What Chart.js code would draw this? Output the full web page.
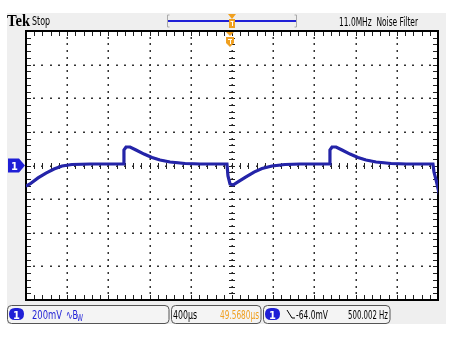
<!DOCTYPE html>
<html>
<head>
<meta charset="utf-8">
<script src="https://cdn.jsdelivr.net/npm/chart.js@4.4.1/dist/chart.umd.min.js"></script>
<style>
  html, body { margin: 0; padding: 0; background: #fff; }
  canvas { display: block; }
</style>
</head>
<body>
<canvas id="scope" width="459" height="347"></canvas>
<script>
// trace: time in microseconds, level in millivolts
const timeUs = [0, 39, 117, 194, 272, 350, 447, 621, 942,
  951, 971, 1010, 1068, 1146, 1223, 1301, 1398, 1544, 1689, 1951,
  1961, 1981, 2010, 2058, 2136, 2214, 2291, 2388, 2515, 2660, 2942,
  2951, 2971, 3010, 3068, 3146, 3223, 3301, 3398, 3544, 3689, 3951,
  3961, 3981, 3990];
const traceMv = [-122, -110, -74, -45, -21, -3, 6, 9, 9,
  92, 110, 110, 92, 68, 48, 33, 21, 12, 9, 9,
  -62, -110, -116, -98, -68, -39, -18, -3, 6, 9, 9,
  92, 110, 110, 92, 68, 48, 33, 21, 12, 9, 9,
  -39, -86, -110];

// screen settings
const usPerDiv = 400;
const mvPerDiv = 200;
const xDivs = 10;
const yDivs = 8;
const headerLeft = "Stop";
const headerRight = "11.0MHz  Noise Filter";
const chScale = "200mV";
const timeBase = "400\u00b5s";
const trigPos = "49.5680\u00b5s";
const trigLevel = "-64.0mV";
const freqText = "500.002 Hz";

const narrow = "'Liberation Sans Narrow','DejaVu Sans Condensed',Arial,sans-serif";
const blue = "#1f1fd6";
const orange = "#f0a020";

function roundRect(ctx, x, y, w, h, r) {
  ctx.beginPath();
  ctx.moveTo(x + r, y);
  ctx.lineTo(x + w - r, y);
  ctx.quadraticCurveTo(x + w, y, x + w, y + r);
  ctx.lineTo(x + w, y + h - r);
  ctx.quadraticCurveTo(x + w, y + h, x + w - r, y + h);
  ctx.lineTo(x + r, y + h);
  ctx.quadraticCurveTo(x, y + h, x, y + h - r);
  ctx.lineTo(x, y + r);
  ctx.quadraticCurveTo(x, y, x + r, y);
  ctx.closePath();
}

function chPill(ctx, x, y) {
  ctx.fillStyle = blue;
  roundRect(ctx, x, y, 15, 12, 6);
  ctx.fill();
  ctx.fillStyle = "#fff";
  ctx.font = "bold 11px " + narrow;
  ctx.textAlign = "center";
  ctx.fillText("1", x + 7.5, y + 10.5);
  ctx.textAlign = "left";
}

const scopePlugin = {
  id: "scope",
  beforeDraw(chart) {
    const ctx = chart.ctx;
    const a = chart.chartArea;
    const xs = chart.scales.x, ys = chart.scales.y;
    ctx.save();
    ctx.fillStyle = "#fff";
    ctx.fillRect(0, 0, chart.width, chart.height);
    ctx.fillStyle = "#efefef";
    ctx.fillRect(7, 13, 439, 311);
    ctx.fillStyle = "#fff";
    ctx.fillRect(a.left, a.top, a.right - a.left, a.bottom - a.top);

    // dotted graticule
    ctx.fillStyle = "#333";
    const xMin = xs.min, xMax = xs.max, yMin = ys.min, yMax = ys.max;
    const xMinor = usPerDiv / 5, yMinor = mvPerDiv / 5;
    for (let t = xMin + usPerDiv; t < xMax; t += usPerDiv) {
      const px = Math.round(xs.getPixelForValue(t));
      for (let v = yMin; v <= yMax; v += yMinor) {
        const py = Math.round(ys.getPixelForValue(v));
        ctx.fillRect(px - 0.5, py - 1, 1.5, 2);
      }
    }
    for (let v = yMin + mvPerDiv; v < yMax; v += mvPerDiv) {
      const py = Math.round(ys.getPixelForValue(v));
      for (let t = xMin; t <= xMax; t += xMinor) {
        const px = Math.round(xs.getPixelForValue(t));
        ctx.fillRect(px - 1, py - 0.5, 2, 1.5);
      }
    }
    // centre line ticks
    const cx = Math.round(xs.getPixelForValue((xMin + xMax) / 2));
    const cy = Math.round(ys.getPixelForValue(0));
    ctx.strokeStyle = "#222";
    ctx.lineWidth = 1;
    ctx.beginPath();
    for (let t = xMin; t <= xMax; t += xMinor) {
      const px = Math.round(xs.getPixelForValue(t)) + 0.5;
      ctx.moveTo(px, cy - 3); ctx.lineTo(px, cy + 3);
    }
    for (let v = yMin; v <= yMax; v += yMinor) {
      const py = Math.round(ys.getPixelForValue(v)) + 0.5;
      ctx.moveTo(cx - 3, py); ctx.lineTo(cx + 3, py);
    }
    // border ticks
    for (let t = xMin; t <= xMax; t += xMinor) {
      const px = Math.round(xs.getPixelForValue(t)) + 0.5;
      ctx.moveTo(px, a.top); ctx.lineTo(px, a.top + 5);
      ctx.moveTo(px, a.bottom); ctx.lineTo(px, a.bottom - 5);
    }
    for (let v = yMin; v <= yMax; v += yMinor) {
      const py = Math.round(ys.getPixelForValue(v)) + 0.5;
      ctx.moveTo(a.left, py); ctx.lineTo(a.left + 5, py);
      ctx.moveTo(a.right, py); ctx.lineTo(a.right - 5, py);
    }
    ctx.stroke();
    ctx.lineWidth = 2;
    ctx.strokeStyle = "#000";
    ctx.strokeRect(a.left, a.top, a.right - a.left, a.bottom - a.top);
    ctx.restore();
  },
  afterDraw(chart) {
    const ctx = chart.ctx;
    const xs = chart.scales.x, ys = chart.scales.y;
    ctx.save();
    // header
    ctx.fillStyle = "#000";
    ctx.font = "bold 17px 'Liberation Serif',serif";
    ctx.fillText("Tek", 7, 26, 23);
    ctx.font = "12px " + narrow;
    ctx.fillText(headerLeft, 32, 25, 18);
    ctx.fillText(headerRight, 339, 26, 79);

    // record bar
    ctx.strokeStyle = "#aaa";
    ctx.lineWidth = 1;
    ctx.beginPath();
    ctx.moveTo(169.5, 15); ctx.lineTo(167.5, 15); ctx.lineTo(167.5, 27); ctx.lineTo(169.5, 27);
    ctx.moveTo(294.5, 15); ctx.lineTo(296.5, 15); ctx.lineTo(296.5, 27); ctx.lineTo(294.5, 27);
    ctx.stroke();
    ctx.strokeStyle = blue;
    ctx.lineWidth = 2;
    ctx.beginPath();
    ctx.moveTo(168, 21); ctx.lineTo(296, 21);
    ctx.stroke();

    // trigger markers
    const tx = xs.getPixelForValue(2000);
    const lx = tx - 2;
    ctx.fillStyle = orange;
    ctx.beginPath();
    ctx.moveTo(tx - 4, 14); ctx.lineTo(tx + 4, 14); ctx.lineTo(tx, 19); ctx.closePath();
    ctx.fill();
    ctx.fillRect(tx - 3, 19, 6, 9);
    ctx.beginPath();
    ctx.moveTo(lx - 4, 32); ctx.lineTo(lx + 4, 32); ctx.lineTo(lx, 36); ctx.closePath();
    ctx.fill();
    ctx.beginPath();
    ctx.moveTo(lx - 4, 37); ctx.lineTo(lx + 4, 37); ctx.lineTo(lx + 4, 43); ctx.lineTo(lx, 47); ctx.lineTo(lx - 4, 43);
    ctx.closePath();
    ctx.fill();
    ctx.strokeStyle = "#fff";
    ctx.lineWidth = 1;
    ctx.beginPath();
    ctx.moveTo(lx - 2, 39.5); ctx.lineTo(lx + 2, 39.5); ctx.moveTo(lx + 0.5, 39.5); ctx.lineTo(lx + 0.5, 44);
    ctx.moveTo(tx - 1.5, 21.5); ctx.lineTo(tx + 1.5, 21.5); ctx.moveTo(tx + 0.5, 21.5); ctx.lineTo(tx + 0.5, 26);
    ctx.stroke();

    // channel ground marker
    const gy = ys.getPixelForValue(0);
    ctx.fillStyle = blue;
    ctx.beginPath();
    ctx.moveTo(8, gy - 7); ctx.lineTo(19, gy - 7); ctx.lineTo(25, gy); ctx.lineTo(19, gy + 7); ctx.lineTo(8, gy + 7);
    ctx.closePath();
    ctx.fill();
    ctx.fillStyle = "#fff";
    ctx.font = "bold 11px " + narrow;
    ctx.fillText("1", 11, gy + 4.5);

    // status boxes
    ctx.strokeStyle = "#555";
    ctx.lineWidth = 1;
    [[7.5, 169], [171.5, 261], [263.5, 390]].forEach(([x0, x1]) => {
      ctx.fillStyle = "#f4f4f4";
      roundRect(ctx, x0, 305.5, x1 - x0, 18, 4);
      ctx.fill();
      ctx.stroke();
    });
    chPill(ctx, 9, 308);
    chPill(ctx, 265, 308);
    ctx.font = "12px " + narrow;
    ctx.fillStyle = blue;
    ctx.fillText(chScale, 32, 319, 30);
    ctx.fillText("\u223fB", 66, 319, 12);
    ctx.font = "8px " + narrow;
    ctx.fillText("W", 77, 321, 6);
    ctx.font = "12px " + narrow;
    ctx.fillStyle = "#000";
    ctx.fillText(timeBase, 173, 319, 24);
    ctx.fillStyle = orange;
    ctx.fillText(trigPos, 220, 319, 39);
    ctx.fillStyle = "#000";
    ctx.strokeStyle = "#000";
    ctx.beginPath();
    ctx.moveTo(287, 310); ctx.lineTo(292, 318); ctx.lineTo(295, 318);
    ctx.stroke();
    ctx.fillText(trigLevel, 296, 319, 32);
    ctx.fillText(freqText, 348, 319, 40);
    ctx.restore();
  }
};

const points = timeUs.map((t, i) => ({ x: t, y: traceMv[i] }));

new Chart(document.getElementById("scope"), {
  type: "line",
  data: {
    datasets: [{
      data: points,
      borderColor: "#2424a8",
      borderWidth: 3.2,
      pointRadius: 0,
      tension: 0
    }, {
      data: points,
      borderColor: "#3434ea",
      borderWidth: 1.8,
      pointRadius: 0,
      tension: 0
    }]
  },
  options: {
    responsive: false,
    animation: false,
    devicePixelRatio: 1,
    layout: { padding: { left: 26, top: 31, right: 21, bottom: 47 } },
    plugins: { legend: { display: false }, tooltip: { enabled: false } },
    scales: {
      x: { type: "linear", display: false, min: 0, max: usPerDiv * xDivs },
      y: { type: "linear", display: false, min: -mvPerDiv * yDivs / 2, max: mvPerDiv * yDivs / 2 }
    }
  },
  plugins: [scopePlugin]
});
</script>
</body>
</html>
